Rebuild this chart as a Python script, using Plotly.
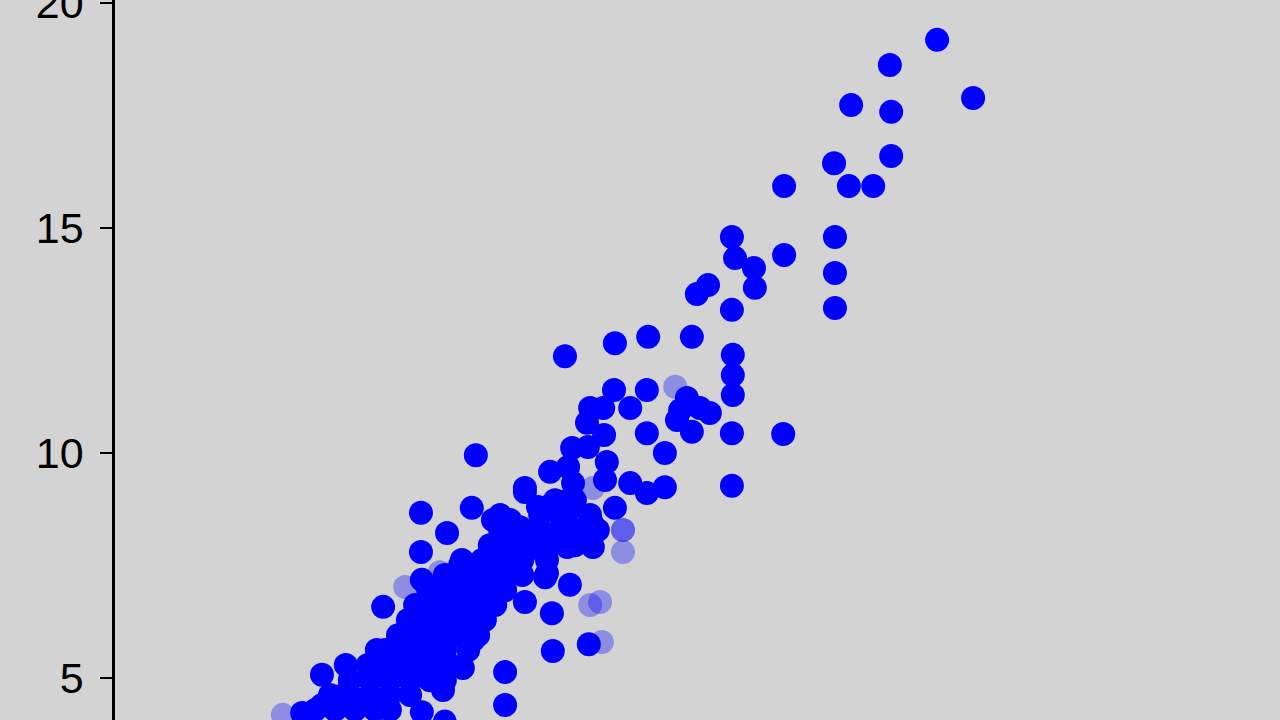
import plotly.graph_objects as go

# ---- data ----
x_sparse = [19.38, 18.33, 20.18, 17.47, 18.36, 18.36, 17.09, 15.98, 17.42, 17.96,
            14.82, 17.11, 14.89, 15.31, 15.98, 17.11, 15.33, 14.29, 14.04, 14.82, 17.11,
            12.96, 13.93, 12.22, 11.11, 14.84, 14.84, 14.84, 12.2, 12.93, 12.56, 11.67,
            11.96, 13.82, 13.67, 14.11, 14.33, 13.93, 13.6, 14.82, 15.96, 12.93, 13.33,
            14.82, 13.33, 12.93, 12.56, 12.22, 12.0, 11.98, 11.6, 11.27, 11.62, 12.04,
            10.78, 11.18, 11.29, 10.22, 9.13, 11.27, 11.18, 10.71, 11.67, 11.71, 11.16,
            11.73, 11.16, 10.71, 11.22, 10.71, 10.51, 10.11, 10.27, 10.22, 10.82, 10.84,
            11.64, 9.78, 9.78, 8.44, 8.84, 8.4, 9.07, 10.67, 9.51, 9.89, 9.04, 7.91,
            8.49, 7.91, 8.78, 7.93, 7.07, 5.71, 6.24, 5.27, 5.71, 6.18, 6.93, 7.93,
            10.22, 9.44]
y_sparse = [19.17, 18.61, 17.88, 17.72, 17.57, 16.59, 16.43, 15.92, 15.92, 15.92,
            14.79, 14.79, 14.32, 14.10, 14.39, 13.99, 13.66, 13.72, 13.52, 13.17, 13.21,
            12.57, 12.57, 12.43, 12.14, 12.17, 11.72, 11.28, 11.39, 11.39, 10.99, 10.99,
            10.99, 11.21, 10.94, 10.99, 10.88, 10.46, 10.72, 10.43, 10.41, 10.43, 9.99,
            9.26, 9.23, 9.1, 9.32, 8.77, 9.39, 10.39, 10.66, 10.1, 10.12, 9.79,
            9.57, 9.68, 9.32, 9.21, 9.94, 8.79, 8.94, 8.79, 8.61, 8.43, 8.43,
            7.9, 7.9, 7.61, 7.06, 7.32, 8.79, 8.34, 7.83, 6.68, 6.43, 5.59,
            5.74, 5.12, 4.39, 4.02, 5.21, 4.72, 5.83, 7.23, 8.5, 8.5, 8.77, 8.66,
            8.21, 7.79, 7.5, 7.17, 6.57, 5.06, 5.28, 4.21, 4.39, 4.61, 5.61, 4.23,
            9.12, 7.79]

# dense core of the cloud
x_dense = [5.56, 6.0, 6.44, 6.89, 7.22,
           5.89, 6.33, 6.78, 7.22, 7.67,
           6.33, 6.78, 7.22, 7.67, 8.11, 8.44,
           6.73, 7.18, 7.62, 8.07, 8.56,
           7.11, 7.56, 8.0, 8.44, 8.96,
           7.4, 7.84, 8.29, 8.73, 9.18,
           7.62, 8.07, 8.51, 8.96, 9.33,
           7.78, 8.22, 8.67, 9.11, 9.56,
           8.07, 8.51, 8.96, 9.4, 9.78,
           8.44, 8.89, 9.33, 9.78, 10.16,
           8.82, 9.27, 9.71, 10.16,
           9.44, 9.89, 10.33, 10.78, 11.33,
           9.67, 10.11, 10.56, 11.0, 11.44, 11.84,
           9.67, 10.56, 11.0,
           10.89, 11.33]
y_dense = [4.28, 4.28, 4.28, 4.28, 4.28,
           4.61, 4.61, 4.61, 4.61, 4.61,
           4.94, 4.94, 4.94, 4.94, 4.94, 4.94,
           5.28, 5.28, 5.28, 5.28, 5.28,
           5.61, 5.61, 5.61, 5.61, 5.61,
           5.94, 5.94, 5.94, 5.94, 5.94,
           6.28, 6.28, 6.28, 6.28, 6.28,
           6.61, 6.61, 6.61, 6.61, 6.61,
           6.94, 6.94, 6.94, 6.94, 6.94,
           7.28, 7.28, 7.28, 7.28, 7.28,
           7.61, 7.61, 7.61, 7.61,
           7.94, 7.94, 7.94, 7.94, 7.94,
           8.28, 8.28, 8.28, 8.28, 8.28, 8.28,
           8.61, 8.61, 8.61,
           8.94, 8.94]

# faded points
x_light = [13.56, 11.73, 12.4, 12.4, 12.4, 11.93, 11.67, 11.89, 8.33, 7.56, 4.84]
y_light = [11.46, 9.21, 8.28, 8.28, 7.79, 5.79, 6.61, 6.68, 7.34, 7.01, 4.17]

y_ticks = [5, 10, 15, 20]

BG = "#d3d3d3"
BLUE = "#0000ff"

fig = go.Figure()
fig.add_trace(go.Scatter(x=x_light, y=y_light, mode="markers",
                         marker=dict(size=24, color=BLUE, opacity=0.33, line=dict(width=0)),
                         showlegend=False, hoverinfo="skip"))
fig.add_trace(go.Scatter(x=x_sparse + x_dense, y=y_sparse + y_dense, mode="markers",
                         marker=dict(size=24, color=BLUE, line=dict(width=0)),
                         showlegend=False, hoverinfo="skip"))

fig.update_layout(
    width=1280, height=720,
    margin=dict(l=115, r=0, t=0, b=0, pad=0),
    paper_bgcolor=BG, plot_bgcolor=BG,
    font=dict(family="Liberation Sans, Arial, sans-serif", size=43, color="black"),
    xaxis=dict(range=[1.111, 27.0], visible=False, showgrid=False, zeroline=False),
    yaxis=dict(range=[4.056, 20.056], tickmode="array", tickvals=y_ticks,
               ticktext=[str(v) for v in y_ticks],
               showline=True, linecolor="black", linewidth=2.5,
               ticks="outside", ticklen=12, tickwidth=2, tickcolor="black",
               ticklabelstandoff=8, ticklabeloverflow="allow",
               showgrid=False, zeroline=False, automargin=False,
               tickfont=dict(size=43, color="black")),
)

fig.write_html(
    "out.html",
    config={"displayModeBar": False},
    post_script="document.body.style.margin='0';document.body.style.background='#d3d3d3';document.body.style.overflow='hidden';",
)
